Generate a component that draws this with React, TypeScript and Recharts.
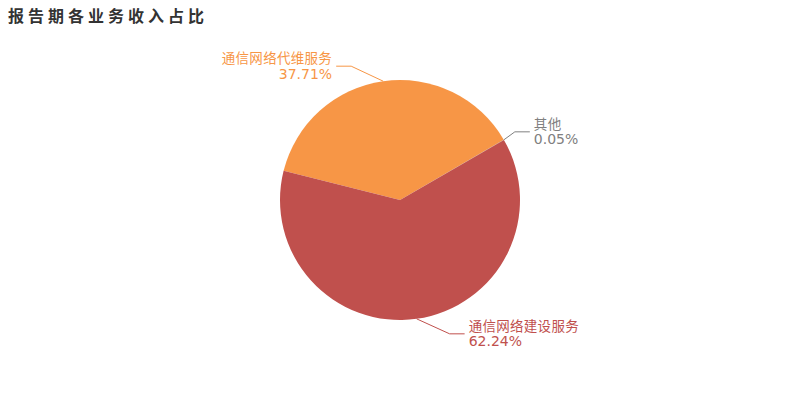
import { Cell, Pie, PieChart } from 'recharts';

const names = ['其他', '通信网络代维服务', '通信网络建设服务'];
const shares = [0.05, 37.71, 62.24];
const colors = ['#808080', '#f79646', '#c0504d'];
// leader-line elbow offsets from the slice edge, and which side the text sits on
const elbowOffsets: [number, number][] = [
  [11, -8],
  [-32, -15],
  [33, 15],
];
const tailLength = 15;

const data = names.map((name, i) => ({ name, value: shares[i] }));

const RAD = Math.PI / 180;

function renderLabel(props: any) {
  const { cx, cy, midAngle, outerRadius, index, value, name } = props;
  const ax = cx + outerRadius * Math.cos(-midAngle * RAD);
  const ay = cy + outerRadius * Math.sin(-midAngle * RAD);
  const [ox, oy] = elbowOffsets[index];
  const ex = ax + ox;
  const ey = ay + oy;
  const right = ox >= 0;
  const tx = ex + (right ? tailLength : -tailLength);
  const color = colors[index];
  const textX = tx + (right ? 4 : -4);
  const anchor = right ? 'start' : 'end';
  return (
    <g>
      <polyline
        points={`${ax},${ay} ${ex},${ey} ${tx},${ey}`}
        fill="none"
        stroke={color}
        strokeWidth={1}
      />
      <text
        x={textX}
        y={ey - 8}
        textAnchor={anchor}
        dominantBaseline="central"
        fill={color}
        fontSize={13.5}
        letterSpacing={0.3}
        fontFamily="'DejaVu Sans', 'Noto Sans CJK SC', sans-serif"
      >
        {name}
      </text>
      <text
        x={textX}
        y={ey + 7.5}
        textAnchor={anchor}
        dominantBaseline="central"
        fill={color}
        fontSize={14}
        fontFamily="'DejaVu Sans', 'Noto Sans CJK SC', sans-serif"
      >
        {Number(value).toFixed(2)}%
      </text>
    </g>
  );
}

export default function App() {
  return (
    <div
      style={{
        position: 'fixed',
        left: 0,
        top: 0,
        width: 800,
        height: 400,
        background: '#fff',
      }}
    >
      <div
        style={{
          position: 'absolute',
          left: 8,
          top: 3,
          fontSize: 16,
          fontWeight: 'bold',
          letterSpacing: 4,
          color: '#333',
          fontFamily: "'Noto Sans CJK SC', sans-serif",
        }}
      >
        报告期各业务收入占比
      </div>
      <PieChart width={800} height={400} margin={{ top: 0, right: 0, bottom: 0, left: 0 }}>
        <Pie
          data={data}
          dataKey="value"
          nameKey="name"
          cx={400}
          cy={200}
          outerRadius={120}
          startAngle={30}
          endAngle={390}
          stroke="none"
          label={renderLabel}
          labelLine={false}
          isAnimationActive={false}
        >
          {data.map((d, i) => (
            <Cell key={d.name} fill={colors[i]} />
          ))}
        </Pie>
      </PieChart>
    </div>
  );
}
